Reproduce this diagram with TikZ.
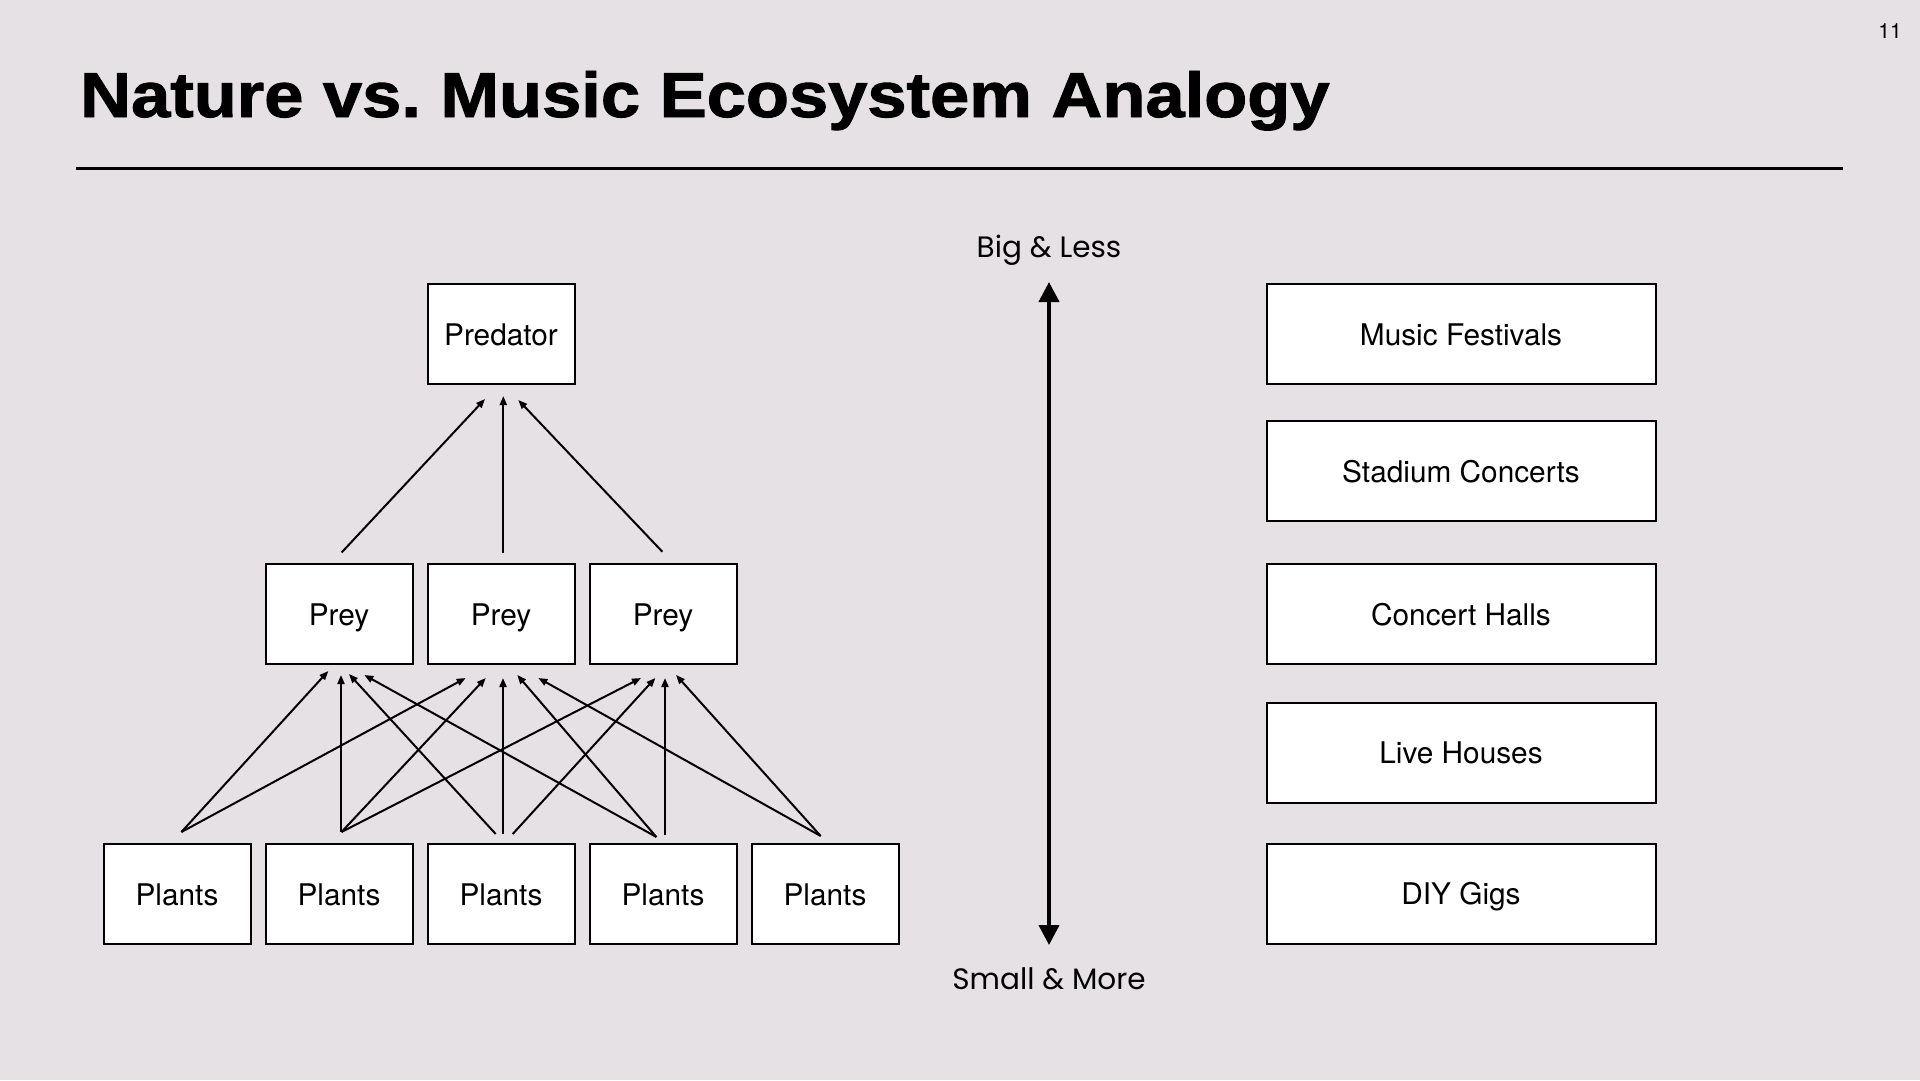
\documentclass[tikz,border=0pt]{standalone}
\usepackage{fontspec}
\setmainfont{TeX Gyre Heros}
\newfontfamily\titlefont{Liberation Sans Bold}[FakeBold=1.5]
\newfontfamily\axisfont{Poppins}
\usetikzlibrary{arrows.meta}
\definecolor{bg}{HTML}{E6E1E5}
\begin{document}
\begin{tikzpicture}[x=1pt,y=-1pt,
  box/.style={draw=black, line width=2pt, fill=white, minimum width=147pt, minimum height=100pt,
    inner sep=0pt, text height=22pt, text depth=0pt, font=\fontsize{29.8}{35}\selectfont},
  widebox/.style={box, minimum width=389pt},
  link/.style={-{Triangle[length=9pt,width=7pt]}, line width=2pt},
  axislabel/.style={anchor=base, inner sep=0pt, font=\axisfont\fontsize{29.5}{34}\selectfont}]
\fill[bg] (0,0) rectangle (1920,1080);
\useasboundingbox (0,0) rectangle (1920,1080);
% title and rule
\node[anchor=base west, inner sep=0pt] (title) at (80,117)
  {\titlefont\fontsize{63.5}{70}\selectfont\scalebox{1.11}[1]{Nature vs.\kern-6pt{} Music Ecosystem Analogy}};
\draw[line width=3pt] (76,168) -- (1843,168);
\node[anchor=base, inner sep=0pt, font=\fontsize{21}{25}\selectfont] (pagenum) at (1890,38) {11};
% food web
\node[box] (pred) at (501,334) {Predator};
\node[box] (q1) at (339,614) {Prey};
\node[box] (q2) at (501,614) {Prey};
\node[box] (q3) at (663,614) {Prey};
\node[box] (p1) at (177,894) {Plants};
\node[box] (p2) at (339,894) {Plants};
\node[box] (p3) at (501,894) {Plants};
\node[box] (p4) at (663,894) {Plants};
\node[box] (p5) at (825,894) {Plants};
% prey -> predator
\draw[link] ([xshift=2.6pt,yshift=10.5pt]q1.north) -- ([xshift=-16pt,yshift=-14pt]pred.south);
\draw[link] ([xshift=2.3pt,yshift=10pt]q2.north) -- ([xshift=2.3pt,yshift=-11pt]pred.south);
\draw[link] ([xshift=-0.7pt,yshift=11.3pt]q3.north) -- ([xshift=17.3pt,yshift=-15pt]pred.south);
% plants -> prey
\draw[link] ([xshift=4.4pt,yshift=11pt]p1.north) -- ([xshift=-10.7pt,yshift=-6pt]q1.south);
\draw[link] ([xshift=4.4pt,yshift=11pt]p1.north) -- ([xshift=-35.3pt,yshift=-13pt]q2.south);
\draw[link] ([xshift=2pt,yshift=11pt]p2.north) -- ([xshift=2pt,yshift=-10pt]q1.south);
\draw[link] ([xshift=2.5pt,yshift=11pt]p2.north) -- ([xshift=-15.3pt,yshift=-13pt]q2.south);
\draw[link] ([xshift=2.5pt,yshift=11pt]p2.north) -- ([xshift=-22pt,yshift=-13pt]q3.south);
\draw[link] ([xshift=-5.3pt,yshift=9pt]p3.north) -- ([xshift=10pt,yshift=-9pt]q1.south);
\draw[link] ([xshift=2pt,yshift=9pt]p3.north) -- ([xshift=2pt,yshift=-13pt]q2.south);
\draw[link] ([xshift=11.7pt,yshift=9pt]p3.north) -- ([xshift=-7.7pt,yshift=-13pt]q3.south);
\draw[link] ([xshift=-6.6pt,yshift=6pt]p4.north) -- ([xshift=25.3pt,yshift=-10pt]q1.south);
\draw[link] ([xshift=-6.6pt,yshift=6pt]p4.north) -- ([xshift=16.3pt,yshift=-10pt]q2.south);
\draw[link] ([xshift=2pt,yshift=8pt]p4.north) -- ([xshift=2pt,yshift=-13pt]q3.south);
\draw[link] ([xshift=-4.3pt,yshift=7pt]p5.north) -- ([xshift=37.3pt,yshift=-13pt]q2.south);
\draw[link] ([xshift=-4.3pt,yshift=7pt]p5.north) -- ([xshift=13pt,yshift=-10pt]q3.south);
% scale axis
\node[axislabel] (big) at (1049,257.7) {Big \& Less};
\node[axislabel] (small) at (1049,989.3) {Small \& More};
\coordinate (axtop) at (1049,282);
\coordinate (axbot) at (1049,945);
\draw[line width=4pt, {Triangle[length=20pt,width=20pt]}-{Triangle[length=20pt,width=20pt]}] (axtop) -- (axbot);
% music venues
\node[widebox] (fest) at (1461,334) {Music Festivals};
\node[widebox] (stad) at (1461,471) {Stadium Concerts};
\node[widebox] (hall) at (1461,614) {Concert Halls};
\node[widebox] (live) at (1461,752.5) {Live Houses};
\node[widebox] (diy) at (1461,893.5) {DIY Gigs};
\end{tikzpicture}
\end{document}
